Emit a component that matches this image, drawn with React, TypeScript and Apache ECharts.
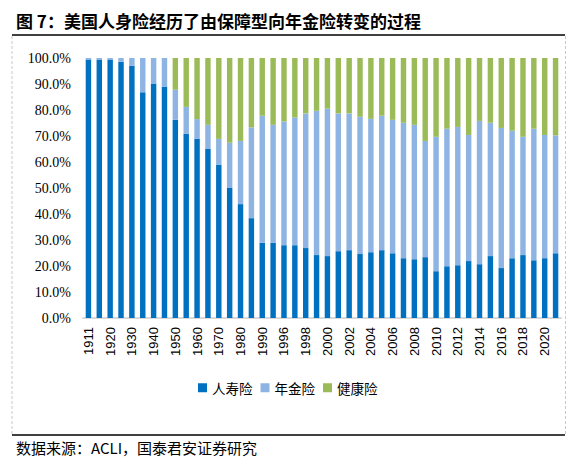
import React, { useEffect, useRef } from 'react';
import * as echarts from 'echarts';

// categories (every other label is shown)
const years = [
  '1911', '1915', '1920', '1925', '1930', '1935', '1940', '1945', '1950', '1955',
  '1960', '1965', '1970', '1975', '1980', '1985', '1990', '1995', '1996', '1997',
  '1998', '1999', '2000', '2001', '2002', '2003', '2004', '2005', '2006', '2007',
  '2008', '2009', '2010', '2011', '2012', '2013', '2014', '2015', '2016', '2017',
  '2018', '2019', '2020', '2021',
];

// shares in %
const lifeShare = [
  99.4, 99.4, 99.4, 98.6, 97.0, 86.8, 90.2, 88.9, 76.2, 70.8,
  68.9, 65.0, 58.9, 50.0, 43.8, 38.4, 28.9, 28.9, 28.0, 28.0,
  26.9, 24.2, 23.8, 25.7, 26.1, 24.6, 25.3, 26.1, 24.9, 23.0,
  22.6, 23.4, 18.0, 19.9, 20.3, 21.9, 20.7, 23.8, 19.2, 23.0,
  24.2, 22.2, 23.0, 24.9,
];

const annuityShare = [
  0.6, 0.6, 0.6, 1.4, 3.0, 13.2, 9.8, 11.1, 11.6, 10.4,
  7.6, 9.3, 10.0, 17.4, 24.3, 34.9, 48.9, 45.4, 47.6, 49.1,
  51.8, 55.5, 56.7, 53.0, 52.6, 52.8, 51.3, 51.7, 51.3, 52.1,
  51.7, 44.7, 51.7, 52.9, 53.2, 48.5, 55.1, 51.3, 53.9, 49.0,
  45.5, 50.6, 47.4, 45.3,
];

const healthShare = [
  0, 0, 0, 0, 0, 0, 0, 0, 12.2, 18.8,
  23.5, 25.7, 31.1, 32.6, 31.9, 26.7, 22.2, 25.7, 24.4, 22.9,
  21.3, 20.3, 19.5, 21.3, 21.3, 22.6, 23.4, 22.2, 23.8, 24.9,
  25.7, 31.9, 30.3, 27.2, 26.5, 29.6, 24.2, 24.9, 26.9, 28.0,
  30.3, 27.2, 29.6, 29.8,
];

const seriesNames = ['人寿险', '年金险', '健康险'];
const seriesColors = ['#0070C0', '#8EB4E3', '#9BBB59'];

const titleText = '图 7：美国人身险经历了由保障型向年金险转变的过程';
const sourceText = '数据来源：ACLI，国泰君安证券研究';

const cjk = '"Noto Sans CJK SC", sans-serif';

const App: React.FC = () => {
  const chartRef = useRef<HTMLDivElement | null>(null);

  useEffect(() => {
    if (!chartRef.current) return;
    const chart = echarts.init(chartRef.current, undefined, { renderer: 'svg' });

    const data = [lifeShare, annuityShare, healthShare];

    chart.setOption({
      animation: false,
      backgroundColor: '#ffffff',
      grid: { left: 83, right: 26, top: 58, bottom: 149 },
      legend: {
        data: seriesNames,
        left: 193,
        top: 376,
        itemWidth: 9,
        itemHeight: 9,
        itemGap: 8,
        icon: 'rect',
        textStyle: { fontFamily: cjk, fontSize: 13.5, color: '#000' },
      },
      xAxis: {
        type: 'category',
        data: years,
        axisLine: { lineStyle: { color: '#d9d9d9', width: 2 } },
        axisTick: { show: false },
        axisLabel: {
          interval: 1,
          rotate: 90,
          margin: 9,
          fontSize: 13,
          fontFamily: '"Liberation Sans", Arial, sans-serif',
          color: '#000',
        },
      },
      yAxis: {
        type: 'value',
        min: 0,
        max: 100,
        interval: 10,
        axisLine: { show: false },
        axisTick: { show: false },
        splitLine: { show: false },
        axisLabel: {
          margin: 12,
          fontSize: 14,
          fontFamily: '"Liberation Serif", "Times New Roman", serif',
          color: '#000',
          formatter: (v: number) => `${v.toFixed(1)}%`,
        },
      },
      series: seriesNames.map((name, i) => ({
        name,
        type: 'bar',
        stack: 'total',
        barWidth: '50%',
        data: data[i],
        itemStyle: { color: seriesColors[i] },
      })),
      graphic: [
        {
          type: 'text',
          left: 16,
          top: 12,
          style: {
            text: titleText,
            font: `bold 17px ${cjk}`,
            fill: '#000',
          },
        },
        {
          type: 'line',
          shape: { x1: 12, y1: 35, x2: 565, y2: 35 },
          style: { stroke: '#000', lineWidth: 1.5 },
        },
        {
          type: 'line',
          shape: { x1: 12, y1: 36, x2: 12, y2: 434 },
          style: { stroke: '#c8c8c8', lineWidth: 1, lineDash: [3, 2] },
        },
        {
          type: 'line',
          shape: { x1: 565.5, y1: 36, x2: 565.5, y2: 434 },
          style: { stroke: '#c8c8c8', lineWidth: 1, lineDash: [3, 2] },
        },
        {
          type: 'line',
          shape: { x1: 12, y1: 435, x2: 565, y2: 435 },
          style: { stroke: '#000', lineWidth: 1.5 },
        },
        {
          type: 'text',
          left: 16,
          top: 440,
          style: {
            text: sourceText,
            font: `15px ${cjk}`,
            fill: '#000',
          },
        },
      ],
    });

    return () => {
      chart.dispose();
    };
  }, []);

  return (
    <div
      ref={chartRef}
      style={{ position: 'fixed', left: 0, top: 0, width: '587px', height: '467px' }}
    />
  );
};

export default App;
